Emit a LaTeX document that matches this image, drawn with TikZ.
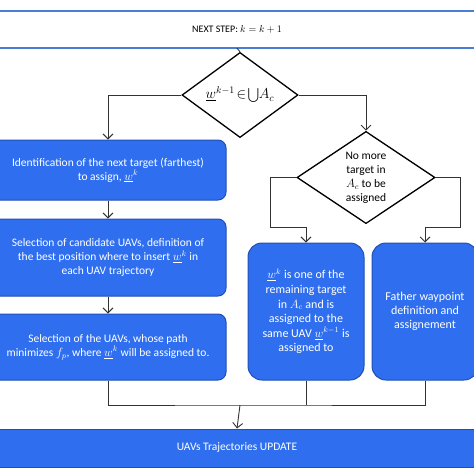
\documentclass[tikz,border=0pt]{standalone}
\usepackage{fontspec}
\setmainfont{Carlito}
\usetikzlibrary{shapes.geometric,arrows.meta}
\definecolor{boxblue}{HTML}{2F6FEF}
\definecolor{boxedge}{HTML}{1F4FB5}
\definecolor{stepline}{HTML}{4A7DD6}
\definecolor{wire}{HTML}{333333}
\tikzset{
  bluebox/.style={rectangle,rounded corners=8pt,fill=boxblue,draw=boxedge,line width=1pt,
    text=white,align=center,inner sep=2pt,font=\fontsize{11.5}{14}\selectfont},
  tallbox/.style={bluebox,rounded corners=14pt},
  test/.style={diamond,draw=black,line width=1.3pt,fill=white,inner sep=0pt,align=center},
  wire/.style={draw=wire,line width=0.9pt},
  >={Straight Barb[length=5pt,width=10pt]}
}
\begin{document}
\begin{tikzpicture}[x=1pt,y=-1pt]
\useasboundingbox (0,0) rectangle (474,474);
% Step header
  \node[minimum width=484pt,minimum height=37pt,inner sep=0pt,font=\fontsize{10}{12}\selectfont] (next) at (237,29.5) {NEXT STEP: $k=k+1$};
  \draw[stepline,line width=1.5pt] (next.north west) -- (next.north east);
  \draw[stepline,line width=1.5pt] (next.south west) -- (next.south east);
% Decisions
  \node[test,minimum width=116pt,minimum height=74pt,font=\fontsize{14}{16}\selectfont] (memb) at (240,95) {$\underline{w}^{k-1}\!\in\!\displaystyle\bigcup\! A_c$};
  \node[test,minimum width=138pt,minimum height=75pt,font=\fontsize{11.5}{14}\selectfont] (nomore) at (366,177.5) {No more\\target in\\$A_c$ to be\\assigned};
% Left branch
  \node[bluebox,minimum width=236pt,minimum height=60pt] (ident) at (108,170) {Identification of the next target (farthest)\\to assign, $\underline{w}^k$};
  \node[bluebox,minimum width=236pt,minimum height=77pt] (cand) at (108,257.5) {Selection of candidate UAVs, definition of\\the best position where to insert $\underline{w}^k$ in\\each UAV trajectory};
  \node[bluebox,minimum width=236pt,minimum height=66pt] (uavsel) at (108,347) {Selection of the UAVs, whose path\\minimizes $f_p$, where $\underline{w}^k$ will be assigned to.};
% Right branch
  \node[tallbox,minimum width=116pt,minimum height=137pt,font=\fontsize{12}{14.6}\selectfont] (remain) at (306,311.5) {$\underline{w}^k$ is one of the\\remaining target\\in $A_c$ and is\\assigned to the\\same UAV $\underline{w}^{k-1}$ is\\assigned to};
  \node[tallbox,minimum width=106pt,minimum height=137pt,font=\fontsize{12}{14.2}\selectfont] (father) at (425,311.5) {Father waypoint\\definition and\\assignement};
% Update
  \node[bluebox,rounded corners=0pt,minimum width=494pt,minimum height=38pt] (update) at (237,448) {UAVs Trajectories UPDATE};
% Draw connectors
  \coordinate (lbend) at (270,227);
  \coordinate (rbend) at (460,227);
  \coordinate (join) at (240,405);
  \draw[wire] (next.south) -- (memb.north);
  \draw[wire,->] (memb.west) -| (ident.north);
  \draw[wire,->] (memb.east) -| (nomore.north);
  \foreach \a/\b in {ident/cand, cand/uavsel} {
    \draw[wire,->] (\a) -- (\b);
  }
  \draw[wire,->] (nomore.west) -| (lbend) -| (remain.north);
  \draw[wire,->] (nomore.east) -| (rbend) -| (father.north);
  \draw[wire] (uavsel.south) |- (join) -| (father.south);
  \draw[wire] (remain.south) -- (remain.south |- join);
  \draw[wire,->] (join) -- (update.north);
\end{tikzpicture}
\end{document}
